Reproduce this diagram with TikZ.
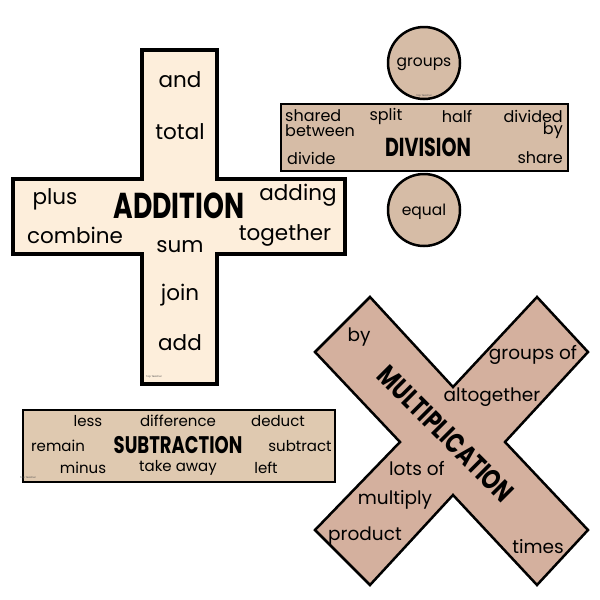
\documentclass[tikz,border=0pt]{standalone}
\usepackage{fontspec}
\setmainfont{Poppins}
\definecolor{addfill}{HTML}{FDEEDB}
\definecolor{divfill}{HTML}{D6BCA6}
\definecolor{subfill}{HTML}{DFC9B0}
\definecolor{mulfill}{HTML}{D4B09E}
\tikzset{
  shapeline/.style={draw=black, line width=3.2pt, line join=miter},
  thinline/.style={draw=black, line width=2.5pt, line join=miter},
  word/.style={inner sep=0pt, font=\fontsize{21.5}{21.5}\selectfont},
  smallword/.style={inner sep=0pt, font=\fontsize{16}{16}\selectfont},
  circword/.style={inner sep=0pt, font=\fontsize{15.5}{15.5}\selectfont},
  subword/.style={inner sep=0pt, font=\fontsize{15}{15}\selectfont},
  mulword/.style={inner sep=0pt, font=\fontsize{18.5}{18.5}\selectfont},
  titletext/.style={inner sep=0pt},
  tiny/.style={inner sep=0pt, font=\fontsize{2.5}{2.5}\selectfont, text=black!70},
}
\newcommand{\ttl}[3]{\scalebox{#2}[1]{\fontsize{#1}{#1}\selectfont\bfseries #3}}
\begin{document}
\begin{tikzpicture}[x=1pt,y=-1pt]
\useasboundingbox (0,0) rectangle (600,600);
% ADDITION cross
\path[shapeline, fill=addfill] (142,50) -- (217,50) -- (217,179) -- (345,179) -- (345,254) -- (217,254) -- (217,384) -- (142,384) -- (142,254) -- (13,254) -- (13,179) -- (142,179) -- cycle;
\node[word] (and) at (180,80) {and};
\node[word] (total) at (180,132) {total};
\node[word] (plus) at (55,199) {plus};
\node[titletext] (addition) at (179,206) {\ttl{36}{0.74}{ADDITION}};
\node[word] (adding) at (298,195) {adding};
\node[word] (combine) at (75,235) {combine};
\node[word] (together) at (285,235) {together};
\node[word] (sum) at (180,247) {sum};
\node[word] (join) at (180,295) {join};
\node[word] (add) at (180,343) {add};
\node[tiny] (addtt) at (154,377) {Top Teacher};
% DIVISION
\path[thinline, fill=divfill] (424,63) circle (36);
\path[thinline, fill=divfill] (424,210) circle (36);
\path[thinline, fill=divfill] (281,104) rectangle (568,171);
\node[circword] (groups) at (424,64) {groups};
\node[tiny] (divtt) at (424,96) {Top Teacher};
\node[circword] (equal) at (424,212) {equal};
\node[smallword, anchor=west] (shared) at (285,116) {shared};
\node[smallword, anchor=west] (between) at (285,131) {between};
\node[smallword] (split) at (386,116) {split};
\node[smallword] (half) at (457,116) {half};
\node[smallword, anchor=east] (divided) at (563,116) {divided};
\node[smallword, anchor=east] (by) at (563,131) {by};
\node[titletext] (division) at (428,147) {\ttl{26}{0.735}{DIVISION}};
\node[smallword, anchor=west] (divide) at (287,158) {divide};
\node[smallword, anchor=east] (share) at (563,158) {share};
% SUBTRACTION
\path[thinline, fill=subfill] (23,410) rectangle (335,482);
\node[subword] (less) at (88,421) {less};
\node[subword] (difference) at (178,421) {difference};
\node[subword] (deduct) at (278,421) {deduct};
\node[subword] (remain) at (58,446) {remain};
\node[titletext] (subtraction) at (178,445) {\ttl{24}{0.75}{SUBTRACTION}};
\node[subword] (subtract) at (300,446) {subtract};
\node[subword] (minus) at (83,468) {minus};
\node[subword] (takeaway) at (178,468) {take away};
\node[subword] (left) at (266,468) {left};
\node[tiny] (subtt) at (28,478) {Top Teacher};
% MULTIPLICATION X
\path[thinline, fill=mulfill]
  (370,297) -- (453,387) -- (537,297) -- (588,352) -- (505,442) -- (588,530) -- (537,585)
  -- (453,495) -- (370,585) -- (315,530) -- (400,442) -- (315,352) -- cycle;
\node[mulword] (mby) at (359,337) {by};
\node[mulword] (groupsof) at (533,355) {groups of};
\node[mulword] (altogether) at (492,397) {altogether};
\node[titletext, rotate=-45] (multiplication) at (446,434) {\ttl{28}{0.77}{MULTIPLICATION}};
\node[mulword] (lotsof) at (417,469) {lots of};
\node[mulword] (multiply) at (395,500) {multiply};
\node[mulword] (product) at (365,536) {product};
\node[mulword] (times) at (538,547) {times};
\end{tikzpicture}
\end{document}
